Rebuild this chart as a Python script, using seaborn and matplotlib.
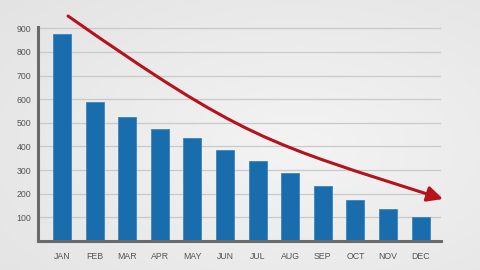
import numpy as np
import pandas as pd
import matplotlib
matplotlib.use("Agg")
import matplotlib.pyplot as plt
from matplotlib.path import Path
from matplotlib.patches import FancyArrowPatch
import seaborn as sns

months = ["JAN", "FEB", "MAR", "APR", "MAY", "JUN", "JUL", "AUG", "SEP", "OCT", "NOV", "DEC"]
values = [875, 587, 524, 473, 436, 386, 337, 286, 235, 173, 137, 100]
yticks = [100, 200, 300, 400, 500, 600, 700, 800, 900]

sns.set_style("white")
plt.rcParams["font.family"] = ["Liberation Sans", "DejaVu Sans"]

W, H = 480, 270
fig = plt.figure(figsize=(4.8, 2.7), dpi=100)

# background gradient
bg = fig.add_axes([0, 0, 1, 1], zorder=-10)
yy, xx = np.mgrid[0:1:270j, 0:1:480j]
r = np.sqrt(((xx - 0.62) / 0.9) ** 2 + ((yy - 0.55) / 0.9) ** 2)
shade = 0.955 - 0.07 * r
bg.imshow(np.dstack([shade] * 3), aspect="auto", extent=[0, 1, 0, 1])
bg.axis("off")

ax = fig.add_axes([0.079, 0.107, 0.84, 0.793])
ax.set_facecolor("none")

df = pd.DataFrame({"month": months, "value": values})
sns.barplot(data=df, x="month", y="value", color="#1a6dad", width=0.55,
            saturation=1, edgecolor="#3a86c0", linewidth=0.6, ax=ax, zorder=3)

ax.set_xlim(-0.74, 11.63)
ax.set_ylim(0, 905)
ax.set_yticks(yticks)
ax.set_yticklabels([str(v) for v in yticks])
ax.set_xlabel("")
ax.set_ylabel("")

for v in yticks:
    ax.axhline(v, color="#c9c9c9", lw=0.9, zorder=1)

for s in ["top", "right"]:
    ax.spines[s].set_visible(False)
for s in ["left", "bottom"]:
    ax.spines[s].set_color("#6a6a6a")
    ax.spines[s].set_linewidth(2.2)
    ax.spines[s].set_zorder(4)

ax.tick_params(axis="y", which="major", direction="out", length=3, width=0.8,
               color="#777777", labelsize=6.3, labelcolor="#555555", pad=2)
ax.tick_params(axis="x", which="major", direction="out", length=4, width=0.8,
               color="#777777", labelsize=6.3, labelcolor="#555555", pad=4)

# decorative trend arrow (cubic bezier, pixel positions -> figure fraction)
pts_px = [(68, 16), (244, 139), (267, 143), (443, 199)]
verts = [(x / W, 1 - y / H) for x, y in pts_px]
path = Path(verts, [Path.MOVETO, Path.CURVE4, Path.CURVE4, Path.CURVE4])
arrow = FancyArrowPatch(path=path, arrowstyle="-|>,head_length=0.67,head_width=0.33",
                        mutation_scale=14, color="#b5121b", lw=2.2,
                        transform=fig.transFigure, zorder=6)
fig.add_artist(arrow)

fig.savefig("out.png", dpi=100)
